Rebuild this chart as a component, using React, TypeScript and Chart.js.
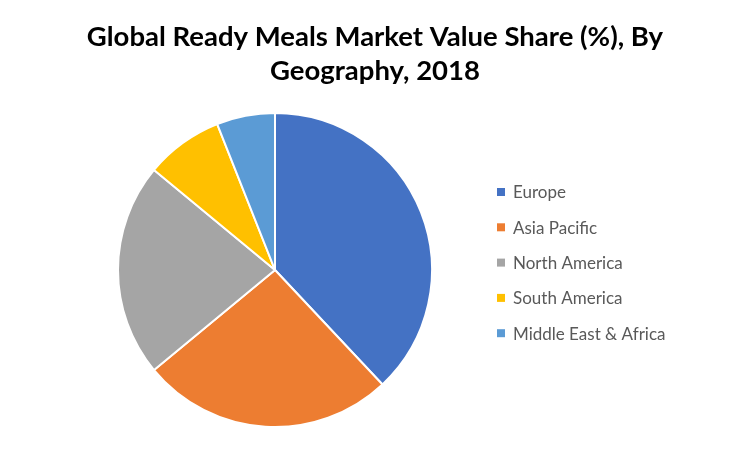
import React, { useEffect, useRef } from "react";
import { Chart, registerables } from "chart.js";

Chart.register(...registerables);

const regions = ["Europe", "Asia Pacific", "North America", "South America", "Middle East & Africa"];
const shares = [38, 26, 22, 8, 6];
const colors = ["#4472C4", "#ED7D31", "#A5A5A5", "#FFC000", "#5B9BD5"];
const titleLines = ["Global Ready Meals Market Value Share (%), By", "Geography, 2018"];

const textDecor = {
  id: "textDecor",
  afterDraw(chart: any) {
    const ctx = chart.ctx;
    ctx.save();
    // title
    ctx.font = "bold 27.5px Lato, 'Open Sans', sans-serif";
    ctx.fillStyle = "#000000";
    ctx.textAlign = "center";
    ctx.textBaseline = "alphabetic";
    titleLines.forEach((line, i) => {
      ctx.fillText(line, 375, 46 + i * 34);
    });
    // legend
    const labels = chart.data.labels as string[];
    const bg = chart.data.datasets[0].backgroundColor as string[];
    const x0 = 497;
    const yStart = 192;
    const step = 35.3;
    ctx.font = "17px Lato, 'Open Sans', sans-serif";
    ctx.textBaseline = "middle";
    ctx.textAlign = "left";
    labels.forEach((lab, i) => {
      const y = yStart + i * step;
      ctx.fillStyle = bg[i];
      ctx.fillRect(x0, y - 4, 8, 8);
      ctx.fillStyle = "#595959";
      ctx.fillText(lab, x0 + 16, y + 1);
    });
    ctx.restore();
  },
};

export default function App() {
  const ref = useRef<HTMLCanvasElement>(null);
  useEffect(() => {
    if (!ref.current) return;
    const chart = new Chart(ref.current, {
      type: "pie",
      data: {
        labels: regions,
        datasets: [
          {
            data: shares,
            backgroundColor: colors,
            borderColor: "#ffffff",
            borderWidth: 2,
          },
        ],
      },
      options: {
        animation: false,
        responsive: false,
        devicePixelRatio: 1,
        layout: { padding: { left: 117, right: 317, bottom: 22, top: 112 } },
        plugins: {
          legend: { display: false },
          tooltip: { enabled: false },
          title: { display: false },
        },
      },
      plugins: [textDecor],
    });
    return () => chart.destroy();
  }, []);
  return (
    <div style={{ position: "fixed", left: 0, top: 0, width: 750, height: 450, background: "#fff" }}>
      <canvas ref={ref} width={750} height={450} style={{ width: 750, height: 450 }} />
    </div>
  );
}
